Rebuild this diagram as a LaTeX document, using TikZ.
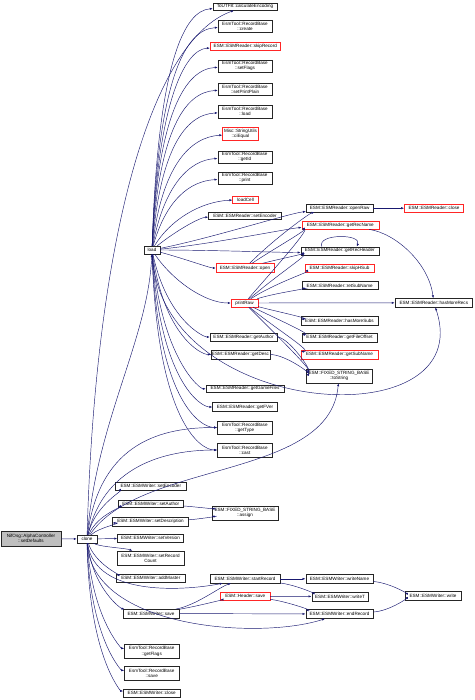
\documentclass[tikz,border=0pt]{standalone}
\usepackage{fontspec}
\setmainfont{Liberation Sans}
\usetikzlibrary{arrows.meta}
\definecolor{mblue}{HTML}{191970}
\newcommand\gfs{\fontsize{4.6}{5.1}\selectfont}
\tikzset{
 nb/.style={draw=black!85, line width=0.4pt, fill=white, inner sep=0pt, align=center, font=\gfs},
 rb/.style={nb, draw=red!85},
 rt/.style={nb, fill=black!25},
 e/.style={draw=mblue, line width=0.45pt, -{Latex[length=3pt,width=2.2pt]}}
}
\begin{document}
\begin{tikzpicture}[x=1pt,y=-1pt]
\useasboundingbox (0,0) rectangle (474,700);
% ---- nodes
\node[rt,minimum width=60pt,minimum height=15pt] (root) at (31,538.5) {NifOsg::AlphaController\\::setDefaults};
\node[nb,minimum width=20pt,minimum height=8pt] (clone) at (87,539) {clone};
\node[nb,minimum width=16pt,minimum height=8pt] (load) at (152,250) {load};
\node[nb,minimum width=64pt,minimum height=7.5pt] (calc) at (245,6.5) {ToUTF8::calculateEncoding};
\node[nb,minimum width=54pt,minimum height=11.5pt] (create) at (245,26.2) {EsmTool::RecordBase\\::create};
\node[rb,minimum width=70.5pt,minimum height=7.5pt] (skipRecord) at (245.3,46.3) {ESM::ESMReader::skipRecord};
\node[nb,minimum width=54pt,minimum height=12pt] (setFlags) at (245,66) {EsmTool::RecordBase\\::setFlags};
\node[nb,minimum width=54pt,minimum height=12pt] (setPrintPlain) at (245,89) {EsmTool::RecordBase\\::setPrintPlain};
\node[nb,minimum width=54pt,minimum height=12.5pt] (rbload) at (245,111.5) {EsmTool::RecordBase\\::load};
\node[rb,minimum width=36pt,minimum height=13pt] (ciEqual) at (240.5,134) {Misc::StringUtils\\::ciEqual};
\node[nb,minimum width=54pt,minimum height=12pt] (getId) at (244.7,157) {EsmTool::RecordBase\\::getId};
\node[nb,minimum width=54pt,minimum height=12pt] (print) at (244.7,178) {EsmTool::RecordBase\\::print};
\node[rb,minimum width=25.7pt,minimum height=7.5pt] (loadCell) at (245.5,199.5) {loadCell};
\node[nb,minimum width=73pt,minimum height=7.5pt] (rsetEncoder) at (245,215.5) {ESM::ESMReader::setEncoder};
\node[nb,minimum width=67pt,minimum height=8pt] (openRaw) at (339.7,208.2) {ESM::ESMReader::openRaw};
\node[rb,minimum width=59.3pt,minimum height=8pt] (rclose) at (434,208.2) {ESM::ESMReader::close};
\node[rb,minimum width=77pt,minimum height=8pt] (getRecName) at (340.3,225.2) {ESM::ESMReader::getRecName};
\node[nb,minimum width=78pt,minimum height=8pt] (getRecHeader) at (339.8,250.8) {ESM::ESMReader::getRecHeader};
\node[rb,minimum width=69pt,minimum height=8pt] (skipHSub) at (339.5,268.2) {ESM::ESMReader::skipHSub};
\node[nb,minimum width=76pt,minimum height=7.7pt] (retSubName) at (339.7,285.5) {ESM::ESMReader::retSubName};
\node[nb,minimum width=77.7pt,minimum height=8.5pt] (hasMoreRecs) at (433.8,302.8) {ESM::ESMReader::hasMoreRecs};
\node[rb,minimum width=58pt,minimum height=9pt] (open) at (245,268) {ESM::ESMReader::open};
\node[rb,minimum width=27pt,minimum height=8pt] (printRaw) at (244.5,303) {printRaw};
\node[nb,minimum width=77pt,minimum height=8.5pt] (hasMoreSubs) at (339.5,320.5) {ESM::ESMReader::hasMoreSubs};
\node[nb,minimum width=75pt,minimum height=8.5pt] (getFileOffset) at (339.5,337.5) {ESM::ESMReader::getFileOffset};
\node[nb,minimum width=67pt,minimum height=8pt] (getAuthor) at (243.5,337) {ESM::ESMReader::getAuthor};
\node[nb,minimum width=59pt,minimum height=8.5pt] (getDesc) at (240.5,354.5) {ESM::ESMReader::getDesc};
\node[rb,minimum width=77pt,minimum height=8.5pt] (getSubName) at (339.5,354.5) {ESM::ESMReader::getSubName};
\node[nb,minimum width=66pt,minimum height=14pt] (toString) at (339,376) {ESM::FIXED\_STRING\_BASE\\::toString};
\node[nb,minimum width=78pt,minimum height=7.7pt] (getGameFiles) at (245,388.8) {ESM::ESMReader::getGameFiles};
\node[nb,minimum width=64.7pt,minimum height=9pt] (getFVer) at (245,407) {ESM::ESMReader::getFVer};
\node[nb,minimum width=55pt,minimum height=13.5pt] (getType) at (244.8,427.5) {EsmTool::RecordBase\\::getType};
\node[nb,minimum width=55pt,minimum height=14pt] (cast) at (244.8,450) {EsmTool::RecordBase\\::cast};
% bottom
\node[nb,minimum width=71.7pt,minimum height=7.5pt] (wsetEncoder) at (150.8,486.3) {ESM::ESMWriter::setEncoder};
\node[nb,minimum width=65pt,minimum height=7.7pt] (setAuthor) at (150.8,503.8) {ESM::ESMWriter::setAuthor};
\node[nb,minimum width=75.7pt,minimum height=8.5pt] (setDescription) at (150.5,521.5) {ESM::ESMWriter::setDescription};
\node[nb,minimum width=66pt,minimum height=8pt] (setVersion) at (150.5,538) {ESM::ESMWriter::setVersion};
\node[nb,minimum width=67.6pt,minimum height=14pt] (setRecordCount) at (150.5,558) {ESM::ESMWriter::setRecord\\Count};
\node[nb,minimum width=68.3pt,minimum height=8.5pt] (addMaster) at (150.8,578.3) {ESM::ESMWriter::addMaster};
\node[nb,minimum width=66.6pt,minimum height=13.3pt] (assign) at (245,513.3) {ESM::FIXED\_STRING\_BASE\\::assign};
\node[nb,minimum width=70pt,minimum height=8.5pt] (startRecord) at (245,578.8) {ESM::ESMWriter::startRecord};
\node[nb,minimum width=67.6pt,minimum height=8.5pt] (writeName) at (339.5,578.8) {ESM::ESMWriter::writeName};
\node[rb,minimum width=49.3pt,minimum height=8.5pt] (hsave) at (245.3,596.2) {ESM::Header::save};
\node[nb,minimum width=56.6pt,minimum height=8.4pt] (writeT) at (340,596.5) {ESM::ESMWriter::writeT};
\node[nb,minimum width=56pt,minimum height=8.3pt] (write) at (433,595.8) {ESM::ESMWriter::write};
\node[nb,minimum width=56.6pt,minimum height=8.4pt] (wsave) at (151,613.5) {ESM::ESMWriter::save};
\node[nb,minimum width=67.6pt,minimum height=9pt] (endRecord) at (339.5,614) {ESM::ESMWriter::endRecord};
\node[nb,minimum width=54.7pt,minimum height=13.5pt] (getFlags) at (151.7,651.3) {EsmTool::RecordBase\\::getFlags};
\node[nb,minimum width=54.7pt,minimum height=13.3pt] (rbsave) at (151.7,673.3) {EsmTool::RecordBase\\::save};
\node[nb,minimum width=56.7pt,minimum height=7.4pt] (wclose) at (151.7,693) {ESM::ESMWriter::close};
% ---- edges: root / clone
\draw[e] (root) -- (clone);
\draw[e] (clone) .. controls +(8,-296) and +(-95,34) .. (calc);
\draw[e] (clone) .. controls +(10,-120) and +(-4,90) .. (load);
\draw[e] (clone) .. controls +(13,-99) and +(-80,0) .. (getType);
\draw[e] (clone) .. controls +(18,-79) and +(-70,0) .. (cast);
\draw[e] (clone) .. controls +(53,-79) and +(-9,104) .. (toString);
\draw[e] (clone) .. controls +(8,-35) and +(-25,3) .. (wsetEncoder);
\draw[e] (clone) .. controls +(10,-25) and +(-25,2) .. (setAuthor);
\draw[e] (clone) .. controls +(12,-12) and +(-25,1) .. (setDescription);
\draw[e] (clone) -- (setVersion);
\draw[e] (clone) .. controls +(12,8) and +(-25,-10) .. (setRecordCount);
\draw[e] (clone) .. controls +(8,25) and +(-30,-3) .. (addMaster);
\draw[e] (clone) .. controls +(8,60) and +(-55,11) .. (startRecord);
\draw[e] (clone) .. controls +(6,50) and +(-30,-5) .. (wsave);
\draw[e] (clone) .. controls +(5,90) and +(-80,26) .. (endRecord);
\draw[e] (clone) .. controls +(5,80) and +(-30,-3) .. (getFlags);
\draw[e] (clone) .. controls +(3,100) and +(-30,-3) .. (rbsave);
\draw[e] (clone) .. controls +(2,120) and +(-30,-2) .. (wclose);
% ---- load top fan
\draw[e] (load) .. controls +(6,-190) and +(-60,4) .. (calc);
\draw[e] (load) .. controls +(6,-170) and +(-60,3) .. (create);
\draw[e] (load) .. controls +(6,-150) and +(-60,3) .. (skipRecord);
\draw[e] (load) .. controls +(6,-135) and +(-60,3) .. (setFlags);
\draw[e] (load) .. controls +(7,-120) and +(-60,3) .. (setPrintPlain);
\draw[e] (load) .. controls +(8,-100) and +(-60,3) .. (rbload);
\draw[e] (load) .. controls +(10,-85) and +(-50,3) .. (ciEqual);
\draw[e] (load) .. controls +(12,-65) and +(-55,3) .. (getId);
\draw[e] (load) .. controls +(14,-50) and +(-55,3) .. (print);
\draw[e] (load) .. controls +(18,-30) and +(-45,2) .. (loadCell);
\draw[e] (load) .. controls +(25,-20) and +(-45,2) .. (rsetEncoder);
% load right / down
\draw[e] (load) .. controls +(60,-12) and +(-50,5) .. (openRaw);
\draw[e] (load) .. controls +(60,-6) and +(-50,3) .. (getRecName);
\draw[e] (load) .. controls +(60,0) and +(-50,2) .. (getRecHeader);
\draw[e] (load) .. controls +(30,8) and +(-35,0) .. (open);
\draw[e] (load) .. controls +(20,30) and +(-40,0) .. (printRaw);
\draw[e] (load) .. controls +(15,70) and +(-40,0) .. (getAuthor);
\draw[e] (load) .. controls +(12,85) and +(-40,0) .. (getDesc);
\draw[e] (load) .. controls +(10,110) and +(-45,0) .. (getGameFiles);
\draw[e] (load) .. controls +(8,130) and +(-45,0) .. (getFVer);
\draw[e] (load) .. controls +(6,150) and +(-45,0) .. (getType);
\draw[e] (load) .. controls +(5,170) and +(-45,0) .. (cast);
\draw[e] (load) .. controls +(8,170) and +(46,137) .. (hasMoreRecs);
% open
\draw[e] (open) .. controls +(30,-30) and +(-30,5) .. (openRaw);
\draw[e] (open) .. controls +(30,-20) and +(-30,3) .. (getRecName);
\draw[e] (open) .. controls +(30,-8) and +(-30,2) .. (getRecHeader);
% printRaw
\draw[e] (printRaw) .. controls +(35,-40) and +(-30,3) .. (getRecName);
\draw[e] (printRaw) .. controls +(35,-30) and +(-30,3) .. (getRecHeader);
\draw[e] (printRaw) .. controls +(30,-20) and +(-25,2) .. (skipHSub);
\draw[e] (printRaw) .. controls +(30,-10) and +(-25,2) .. (retSubName);
\draw[e] (printRaw) -- (hasMoreRecs);
\draw[e] (printRaw) .. controls +(30,8) and +(-25,-1) .. (hasMoreSubs);
\draw[e] (printRaw) .. controls +(30,15) and +(-25,-2) .. (getFileOffset);
\draw[e] (printRaw) .. controls +(30,25) and +(-25,-2) .. (getSubName);
\draw[e] (printRaw) .. controls +(30,30) and +(-25,-4) .. (toString);
% misc reader
\draw[e] (getAuthor) .. controls +(45,0) and +(-25,-3) .. (toString);
\draw[e] (getDesc) .. controls +(45,0) and +(-25,-1) .. (toString);
\draw[e] (openRaw) -- (rclose);
\draw[e] (getRecName) .. controls +(55,8) and +(-5,-40) .. (hasMoreRecs);
\draw[e] ([xshift=-18pt]getRecHeader.north) .. controls +(-5,-13) and +(5,-13) .. ([xshift=17pt]getRecHeader.north);
% writer
\draw[e] (setAuthor) .. controls +(45,3) and +(-20,-3) .. (assign);
\draw[e] (setDescription) .. controls +(45,-2) and +(-20,2) .. (assign);
\draw[e] (startRecord) -- (writeName);
\draw[e] (startRecord) .. controls +(50,6) and +(-25,-3) .. (writeT);
\draw[e] (wsave) .. controls +(45,-8) and +(-25,8) .. (startRecord);
\draw[e] (wsave) .. controls +(40,-6) and +(-20,3) .. (hsave);
\draw[e] (wsave) -- (endRecord);
\draw[e] (hsave) -- (writeT);
\draw[e] (hsave) .. controls +(40,5) and +(-25,-3) .. (endRecord);
\draw[e] (writeName) .. controls +(50,4) and +(-25,-2) .. (write);
\draw[e] (endRecord) .. controls +(50,-3) and +(-25,2) .. (write);
\end{tikzpicture}
\end{document}
